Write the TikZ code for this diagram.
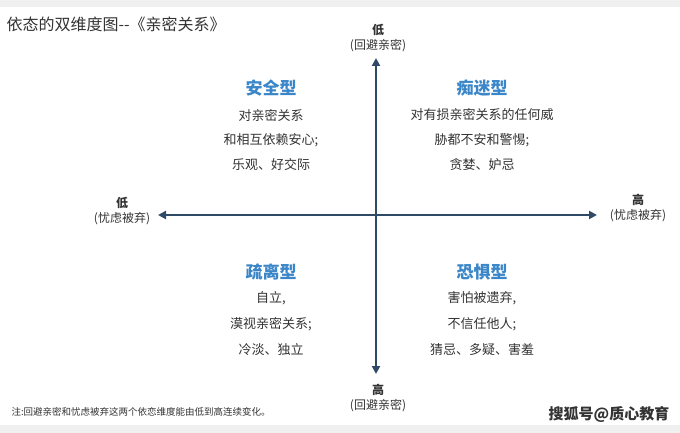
\documentclass[tikz,border=0pt]{standalone}
\usepackage{fontspec}
\newfontfamily\cjk{Noto Sans CJK SC}
\usetikzlibrary{arrows.meta}
\definecolor{axisc}{HTML}{2E4A66}
\definecolor{titc}{HTML}{3A86C8}
\definecolor{txt}{HTML}{333333}
\begin{document}
\begin{tikzpicture}[x=1pt,y=-1pt,
  ttl/.style={font=\cjk\fontsize{17}{19}\selectfont\bfseries, text=titc},
  body/.style={font=\cjk\fontsize{13}{15}\selectfont, text=txt},
  axl/.style={font=\cjk\fontsize{12}{15}\selectfont, text=txt, align=center},
  ax/.style={draw=axisc, line width=2pt, -{Triangle[length=8pt,width=8pt]}}]
\useasboundingbox (0,0) rectangle (680,433);
\fill[white] (0,0) rectangle (680,433);
\fill[black!6] (0,0) rectangle (680,7);
\fill[black!6] (0,425) rectangle (680,433);
\node[anchor=west, font=\cjk\fontsize{16}{18}\selectfont, text=txt] (title) at (3,24) {依态的双维度图--《亲密关系》};
\coordinate (c) at (376,215);
\coordinate (t) at (376,58);
\coordinate (b) at (376,374);
\coordinate (l) at (158,215);
\coordinate (r) at (597,215);
\draw[ax] (c) -- (t);
\draw[ax] (c) -- (b);
\draw[ax] (c) -- (l);
\draw[ax] (c) -- (r);
\node[axl] (tl) at (378,38) {\textbf{低}\\(回避亲密)};
\node[axl] (bl) at (378,398) {\textbf{高}\\(回避亲密)};
\node[axl] (ll) at (122,211) {\textbf{低}\\(忧虑被弃)};
\node[axl] (rl) at (638,208) {\textbf{高}\\(忧虑被弃)};
\node[ttl] (q1) at (271,88) {安全型};
\node[body] (q1a) at (271,115) {对亲密关系};
\node[body] (q1b) at (271,140) {和相互依赖安心;};
\node[body] (q1c) at (271,165) {乐观、好交际};
\node[ttl] (q2) at (482,88) {痴迷型};
\node[body] (q2a) at (482,115) {对有损亲密关系的任何威};
\node[body] (q2b) at (482,140) {胁都不安和警惕;};
\node[body] (q2c) at (482,165) {贪婪、妒忌};
\node[ttl] (q3) at (271,272) {疏离型};
\node[body] (q3a) at (271,298) {自立,};
\node[body] (q3b) at (271,324) {漠视亲密关系;};
\node[body] (q3c) at (271,350) {冷淡、独立};
\node[ttl] (q4) at (482,272) {恐惧型};
\node[body] (q4a) at (482,298) {害怕被遗弃,};
\node[body] (q4b) at (482,324) {不信任他人;};
\node[body] (q4c) at (482,350) {猜忌、多疑、害羞};
\node[anchor=west, font=\cjk\fontsize{9.5}{11}\selectfont, text=txt] (note) at (8,412) {注:回避亲密和忧虑被弃这两个依恋维度能由低到高连续变化。};
\node[font=\cjk\fontsize{15}{17}\selectfont\bfseries, text=black!80] (wm) at (609,414) {搜狐号@质心教育};
\end{tikzpicture}
\end{document}
